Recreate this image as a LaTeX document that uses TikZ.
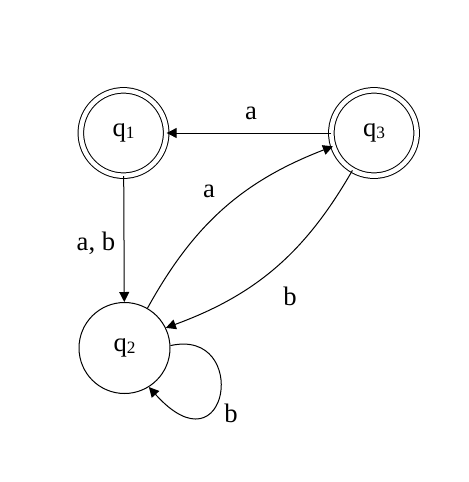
\documentclass[tikz,border=0pt]{standalone}
\usepackage{fontspec}
\setmainfont{Liberation Serif}
\usetikzlibrary{arrows.meta}
\newcommand{\qs}[1]{q\raisebox{-0.06em}{\fontsize{13pt}{14pt}\selectfont #1}}
\begin{document}
\begin{tikzpicture}[x=0.75pt,y=-0.75pt,
  every node/.style={font=\fontsize{20pt}{22pt}\selectfont},
  st/.style={circle,draw,line width=0.75pt,minimum size=68.25pt,inner sep=0pt},
  acc/.style={st,double,double distance=3.4pt,minimum size=64pt},
  tr/.style={draw,line width=0.75pt,-{Triangle[length=7.5pt,width=7.5pt]}},
  lbl/.style={inner sep=0pt}]
\useasboundingbox (0,0) rectangle (468,482);
\node[acc] (q1) at (123.5,133) {\qs{1}};
\node[acc] (q3) at (374,133) {\qs{3}};
\node[st] (q2) at (124.5,348) {\qs{2}};
\draw[tr] (q3) -- (q1);
\draw[tr] (q1) -- (q2);
\draw[tr] (q2.60) to[bend left=20] (q3.198);
\draw[tr] (q3.240) to[bend left=20] (q2.26);
\draw[tr] (q2.3) .. controls +(80,-18) and +(80,89) .. (q2.-58);
\node[lbl] (la) at (251,113) {a};
\node[lbl] (lab) at (96,243) {a, b};
\node[lbl] (la2) at (209,191) {a};
\node[lbl] (lb) at (290,296) {b};
\node[lbl] (lb2) at (231,413) {b};
\end{tikzpicture}
\end{document}
